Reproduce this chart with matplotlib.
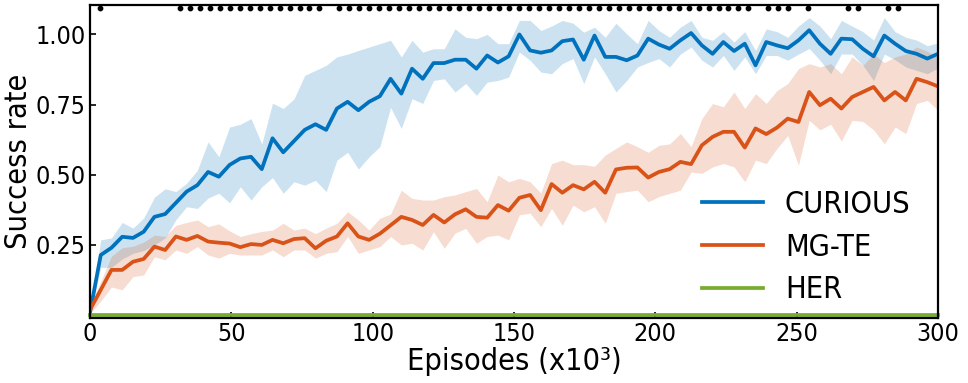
import numpy as np
import matplotlib
matplotlib.use("Agg")
import matplotlib.pyplot as plt

# success rate curves (mean and band)
curious_mean = [0.01, 0.214, 0.24, 0.279, 0.275, 0.297, 0.35, 0.36, 0.40, 0.44,
                0.463, 0.51, 0.493, 0.535, 0.558, 0.564, 0.52, 0.63, 0.58, 0.62,
                0.66, 0.68, 0.66, 0.736, 0.76, 0.73, 0.76, 0.78, 0.842, 0.789,
                0.878, 0.842, 0.898, 0.898, 0.91, 0.91, 0.878, 0.925, 0.90, 0.922,
                1.0, 0.943, 0.935, 0.943, 0.976, 0.982, 0.91, 0.996, 0.92, 0.92,
                0.908, 0.925, 0.985, 0.964, 0.949, 0.979, 1.005, 0.961, 0.931, 0.973,
                0.941, 0.967, 0.89, 0.973, 0.961, 0.951, 0.979, 1.015, 0.967, 0.931,
                0.985, 0.983, 0.949, 0.922, 0.996, 0.967, 0.941, 0.931, 0.914, 0.931]
curious_hi = [0.02, 0.268, 0.275, 0.33, 0.31, 0.346, 0.42, 0.45, 0.44, 0.47,
              0.516, 0.617, 0.564, 0.67, 0.68, 0.70, 0.61, 0.755, 0.736, 0.77,
              0.854, 0.872, 0.89, 0.92, 0.93, 0.943, 0.955, 0.967, 0.979, 0.92,
              0.979, 0.937, 0.949, 0.949, 1.02, 0.99, 0.985, 1.0, 0.967, 0.967,
              1.05, 1.05, 1.014, 1.03, 1.05, 1.04, 1.008, 1.026, 0.99, 1.04,
              1.002, 0.967, 1.05, 1.014, 0.99, 1.026, 1.05, 0.99, 0.979, 1.01,
              0.973, 1.01, 0.943, 1.02, 1.01, 0.99, 1.03, 1.06, 1.03, 0.985,
              1.05, 1.03, 1.01, 0.98, 1.06, 1.01, 0.99, 0.98, 0.96, 0.97]
curious_lo = [0.0, 0.17, 0.17, 0.20, 0.22, 0.23, 0.25, 0.275, 0.34, 0.386,
              0.38, 0.417, 0.434, 0.40, 0.457, 0.41, 0.457, 0.49, 0.434, 0.475,
              0.463, 0.48, 0.44, 0.552, 0.58, 0.52, 0.564, 0.60, 0.74, 0.665,
              0.771, 0.754, 0.836, 0.842, 0.795, 0.825, 0.783, 0.83, 0.836, 0.848,
              0.937, 0.908, 0.866, 0.86, 0.896, 0.914, 0.825, 0.92, 0.86, 0.795,
              0.836, 0.884, 0.90, 0.914, 0.884, 0.93, 0.955, 0.908, 0.884, 0.925,
              0.872, 0.92, 0.86, 0.925, 0.925, 0.908, 0.93, 0.95, 0.908, 0.86,
              0.93, 0.93, 0.89, 0.836, 0.93, 0.91, 0.884, 0.872, 0.86, 0.88]

mgte_mean = [0.019, 0.09, 0.161, 0.161, 0.19, 0.20, 0.244, 0.232, 0.28, 0.268,
             0.282, 0.262, 0.258, 0.255, 0.242, 0.253, 0.25, 0.268, 0.256, 0.271,
             0.274, 0.238, 0.265, 0.28, 0.327, 0.28, 0.268, 0.29, 0.32, 0.35,
             0.339, 0.321, 0.357, 0.33, 0.359, 0.377, 0.35, 0.347, 0.392, 0.372,
             0.418, 0.428, 0.374, 0.467, 0.436, 0.463, 0.448, 0.475, 0.436, 0.519,
             0.525, 0.526, 0.49, 0.51, 0.52, 0.546, 0.538, 0.605, 0.635, 0.653,
             0.653, 0.597, 0.665, 0.645, 0.668, 0.70, 0.688, 0.795, 0.748, 0.771,
             0.736, 0.777, 0.795, 0.813, 0.765, 0.795, 0.765, 0.842, 0.83, 0.815]
mgte_hi = [0.03, 0.12, 0.21, 0.24, 0.245, 0.26, 0.285, 0.28, 0.32, 0.33,
           0.339, 0.315, 0.325, 0.30, 0.28, 0.29, 0.298, 0.303, 0.327, 0.303,
           0.31, 0.29, 0.31, 0.327, 0.368, 0.339, 0.303, 0.345, 0.36, 0.445,
           0.416, 0.41, 0.41, 0.422, 0.428, 0.44, 0.451, 0.404, 0.499, 0.475,
           0.487, 0.475, 0.435, 0.54, 0.552, 0.536, 0.536, 0.53, 0.57, 0.594,
           0.617, 0.60, 0.58, 0.605, 0.61, 0.647, 0.60, 0.70, 0.754, 0.742,
           0.795, 0.736, 0.789, 0.754, 0.80, 0.825, 0.878, 0.896, 0.884, 0.896,
           0.86, 0.92, 0.89, 0.93, 0.90, 0.92, 0.93, 0.955, 0.94, 0.92]
mgte_lo = [0.005, 0.05, 0.10, 0.09, 0.137, 0.143, 0.208, 0.197, 0.232, 0.22,
           0.244, 0.214, 0.203, 0.22, 0.214, 0.214, 0.214, 0.232, 0.208, 0.232,
           0.232, 0.203, 0.22, 0.226, 0.28, 0.22, 0.232, 0.244, 0.28, 0.25,
           0.256, 0.232, 0.297, 0.238, 0.292, 0.309, 0.256, 0.28, 0.285, 0.268,
           0.357, 0.363, 0.315, 0.38, 0.32, 0.392, 0.368, 0.386, 0.327, 0.434,
           0.44, 0.445, 0.404, 0.422, 0.434, 0.445, 0.51, 0.505, 0.528, 0.54,
           0.528, 0.475, 0.552, 0.54, 0.594, 0.64, 0.534, 0.694, 0.66, 0.68,
           0.62, 0.694, 0.69, 0.66, 0.61, 0.67, 0.647, 0.754, 0.765, 0.73]

her_mean = [0.0] * 80

# evaluation steps where the difference is significant (grid of 85 steps over 300k episodes)
sig_steps = ([1] + list(range(9, 24)) + list(range(25, 67)) + [68, 69, 70, 72, 76, 77, 80, 81])

BLUE = "#0072BD"
ORANGE = "#D95319"
GREEN = "#77AC30"

plt.rcParams["font.family"] = ["DejaVu Sans"]
plt.rcParams["font.stretch"] = "condensed"

episodes = np.arange(len(curious_mean)) * 300 / (len(curious_mean) - 1)
sig_x = np.array(sig_steps) * 300 / 85

fig = plt.figure(figsize=(9.68, 3.83), dpi=100)
ax = fig.add_axes([0.093, 0.170, 0.876, 0.817])

ax.fill_between(episodes, curious_lo, curious_hi, color=BLUE, alpha=0.2, lw=0)
ax.fill_between(episodes, mgte_lo, mgte_hi, color=ORANGE, alpha=0.2, lw=0)
ax.plot(episodes, curious_mean, color=BLUE, lw=2.7, label="CURIOUS")
ax.plot(episodes, mgte_mean, color=ORANGE, lw=2.7, label="MG-TE")
ax.plot(episodes, her_mean, color=GREEN, lw=2.7, label="HER", clip_on=False)
ax.scatter(sig_x, np.full(len(sig_x), 1.093), s=10, color="black", zorder=5)

ax.set_xlim(0, 300)
ax.set_ylim(-0.01, 1.105)
ax.set_xticks([0, 50, 100, 150, 200, 250, 300])
ax.set_yticks([0.25, 0.5, 0.75, 1.0])
ax.set_yticklabels(["0.25", "0.50", "0.75", "1.00"])
ax.tick_params(direction="in", labelsize=18, length=4, width=1.2, pad=3)
for s in ax.spines.values():
    s.set_linewidth(1.6)

ax.set_xlabel("Episodes (x10³)", fontsize=22, labelpad=1)
ax.set_ylabel("Success rate", fontsize=22, labelpad=2)

ax.legend(loc="lower right", bbox_to_anchor=(1.0, -0.045), frameon=False,
          fontsize=22, handlelength=2.0, labelspacing=0.45, handletextpad=0.7)

fig.savefig("out.png", dpi=100)
